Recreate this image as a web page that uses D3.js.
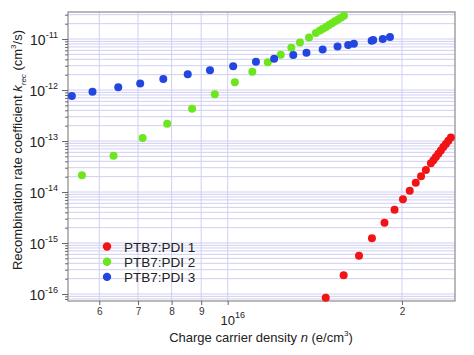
<!DOCTYPE html>
<html><head><meta charset="utf-8">
<script src="https://cdn.jsdelivr.net/npm/d3@7"></script>
<style>body{margin:0;background:#fff}svg{display:block}text{font-family:"Liberation Sans",Arial,sans-serif;fill:#222}</style>
</head><body><svg id="c" width="474" height="355"></svg>
<script>
const seriesNames = ["PTB7:PDI 1", "PTB7:PDI 2", "PTB7:PDI 3"];
const seriesColors = ["#f21414", "#6ee61e", "#2346e0"];
const pdi1N = [1.477e16,1.586e16,1.686e16,1.775e16,1.866e16,1.942e16,2.008e16,2.063e16,2.113e16,2.158e16,2.200e16,2.244e16,2.267e16,2.289e16,2.312e16,2.335e16,2.358e16,2.382e16,2.405e16,2.430e16];
const pdi1K = [8.46e-17,2.33e-16,5.64e-16,1.24e-15,2.50e-15,4.50e-15,7.23e-15,1.06e-14,1.52e-14,2.03e-14,2.70e-14,3.66e-14,4.22e-14,4.88e-14,5.64e-14,6.52e-14,7.62e-14,8.73e-14,1.01e-13,1.17e-13];
const pdi2N = [5.60e15,6.35e15,7.13e15,7.86e15,8.68e15,9.50e15,1.029e16,1.103e16,1.173e16,1.235e16,1.288e16,1.333e16,1.382e16,1.420e16,1.443e16,1.461e16,1.479e16,1.496e16,1.514e16,1.532e16,1.551e16,1.569e16,1.588e16];
const pdi2K = [2.13e-14,5.15e-14,1.15e-13,2.18e-13,4.30e-13,8.24e-13,1.42e-12,2.29e-12,3.49e-12,4.90e-12,6.72e-12,8.54e-12,1.07e-11,1.31e-11,1.47e-11,1.59e-11,1.73e-11,1.88e-11,2.04e-11,2.22e-11,2.41e-11,2.62e-11,2.85e-11];
const pdi3N = [5.38e15,5.84e15,6.47e15,7.06e15,7.74e15,8.53e15,9.32e15,1.022e16,1.119e16,1.203e16,1.298e16,1.368e16,1.459e16,1.548e16,1.615e16,1.652e16,1.773e16,1.784e16,1.853e16,1.907e16];
const pdi3K = [7.62e-13,9.26e-13,1.13e-12,1.35e-12,1.64e-12,2.03e-12,2.43e-12,2.93e-12,3.59e-12,4.11e-12,4.86e-12,5.39e-12,6.22e-12,7.13e-12,7.63e-12,8.09e-12,9.26e-12,9.56e-12,1.0e-11,1.09e-11];
const xTickVals = [6e15,7e15,8e15,9e15,1e16,2e16];
const xTickLabels = ["6","7","8","9","","2"];
const yExponents = [-11,-12,-13,-14,-15,-16];

const svg = d3.select("#c");
const L=68, R=455, T=12, B=301;
const x = d3.scaleLog().domain([5.298e15, 2.47e16]).range([L, R]);
const y = d3.scaleLog().domain([10**-16.137, 10**-10.47]).range([B, T]);
const gridColor = "#cfcff2";

// horizontal grid at every minor tick
const yMinor = [];
for (let e=-17; e<=-10; e++) for (let m=1; m<=9; m++) { const v=m*10**e; if (v>=y.domain()[0] && v<=y.domain()[1]) yMinor.push(v); }
svg.append("g").selectAll("line").data(yMinor).join("line")
  .attr("x1",L).attr("x2",R).attr("y1",d=>y(d)).attr("y2",d=>y(d))
  .attr("stroke",gridColor).attr("stroke-width",1);
svg.append("g").selectAll("line").data(xTickVals).join("line")
  .attr("x1",d=>x(d)).attr("x2",d=>x(d)).attr("y1",T).attr("y2",B)
  .attr("stroke",gridColor).attr("stroke-width",1);

// frame
svg.append("rect").attr("x",L).attr("y",T).attr("width",R-L).attr("height",B-T)
  .attr("fill","none").attr("stroke","#8a8a8a").attr("stroke-width",1.2);

// y axis ticks
const yAxis = d3.axisLeft(y).tickValues(yMinor).tickSize(3).tickFormat("");
const gy = svg.append("g").attr("transform",`translate(${L},0)`).call(yAxis);
gy.select(".domain").remove();
gy.selectAll("line").attr("stroke","#666");
const yMajor = yExponents.map(e=>10**e);
const gy2 = svg.append("g").attr("transform",`translate(${L},0)`).call(d3.axisLeft(y).tickValues(yMajor).tickSize(6).tickFormat(""));
gy2.select(".domain").remove();
gy2.selectAll("line").attr("stroke","#666");
const yl = svg.append("g").selectAll("text").data(yExponents).join("text")
  .attr("x",58).attr("y",e=>y(10**e)+6).attr("text-anchor","end").style("font-size","14px");
yl.append("tspan").text("10");
yl.append("tspan").attr("dy",-7).style("font-size","9px").text(e=>"-"+Math.abs(e));

// x axis ticks
const gx = svg.append("g").attr("transform",`translate(0,${B})`).call(d3.axisBottom(x).tickValues(xTickVals).tickSize(4).tickFormat((d,i)=>xTickLabels[i]));
gx.select(".domain").remove();
gx.selectAll("line").attr("stroke","#666");
gx.selectAll("text").style("font-size","10px").style("fill","#333").attr("y",7).attr("font-family","Liberation Sans, Arial");
const t16 = svg.append("text").attr("x",x(1e16)+5).attr("y",325).attr("text-anchor","middle").style("font-size","13px");
t16.append("tspan").text("10");
t16.append("tspan").attr("dy",-7).style("font-size","9px").text("16");

// axis titles
const xt = svg.append("text").attr("x",261).attr("y",342).attr("text-anchor","middle").style("font-size","13px");
xt.append("tspan").text("Charge carrier density ");
xt.append("tspan").style("font-style","italic").text("n");
xt.append("tspan").text(" (e/cm");
xt.append("tspan").attr("dy",-6).style("font-size","8px").text("3");
xt.append("tspan").attr("dy",6).text(")");
const yt = svg.append("text").attr("transform","translate(22,150) rotate(-90)").attr("text-anchor","middle").style("font-size","13px");
yt.append("tspan").text("Recombination rate coefficient ");
yt.append("tspan").style("font-style","italic").text("k");
yt.append("tspan").attr("dy",4).style("font-size","8px").style("font-style","italic").text("rec");
yt.append("tspan").attr("dy",-4).text(" (cm");
yt.append("tspan").attr("dy",-6).style("font-size","8px").text("3");
yt.append("tspan").attr("dy",6).text("/s)");

// data
const series = [[pdi1N,pdi1K],[pdi2N,pdi2K],[pdi3N,pdi3K]];
series.forEach(([ns,ks],i)=>{
  svg.append("g").selectAll("circle").data(ns.map((n,j)=>[n,ks[j]])).join("circle")
    .attr("cx",d=>x(d[0])).attr("cy",d=>y(d[1])).attr("r",4).attr("fill",seriesColors[i]);
});

// legend
const lg = svg.append("g").selectAll("g").data(seriesNames).join("g")
  .attr("transform",(d,i)=>`translate(107,${246.5+i*15.2})`);
lg.append("circle").attr("r",4.2).attr("fill",(d,i)=>seriesColors[i]);
lg.append("text").attr("x",17).attr("y",5).style("font-size","13.5px").text(d=>d);
</script></body></html>
